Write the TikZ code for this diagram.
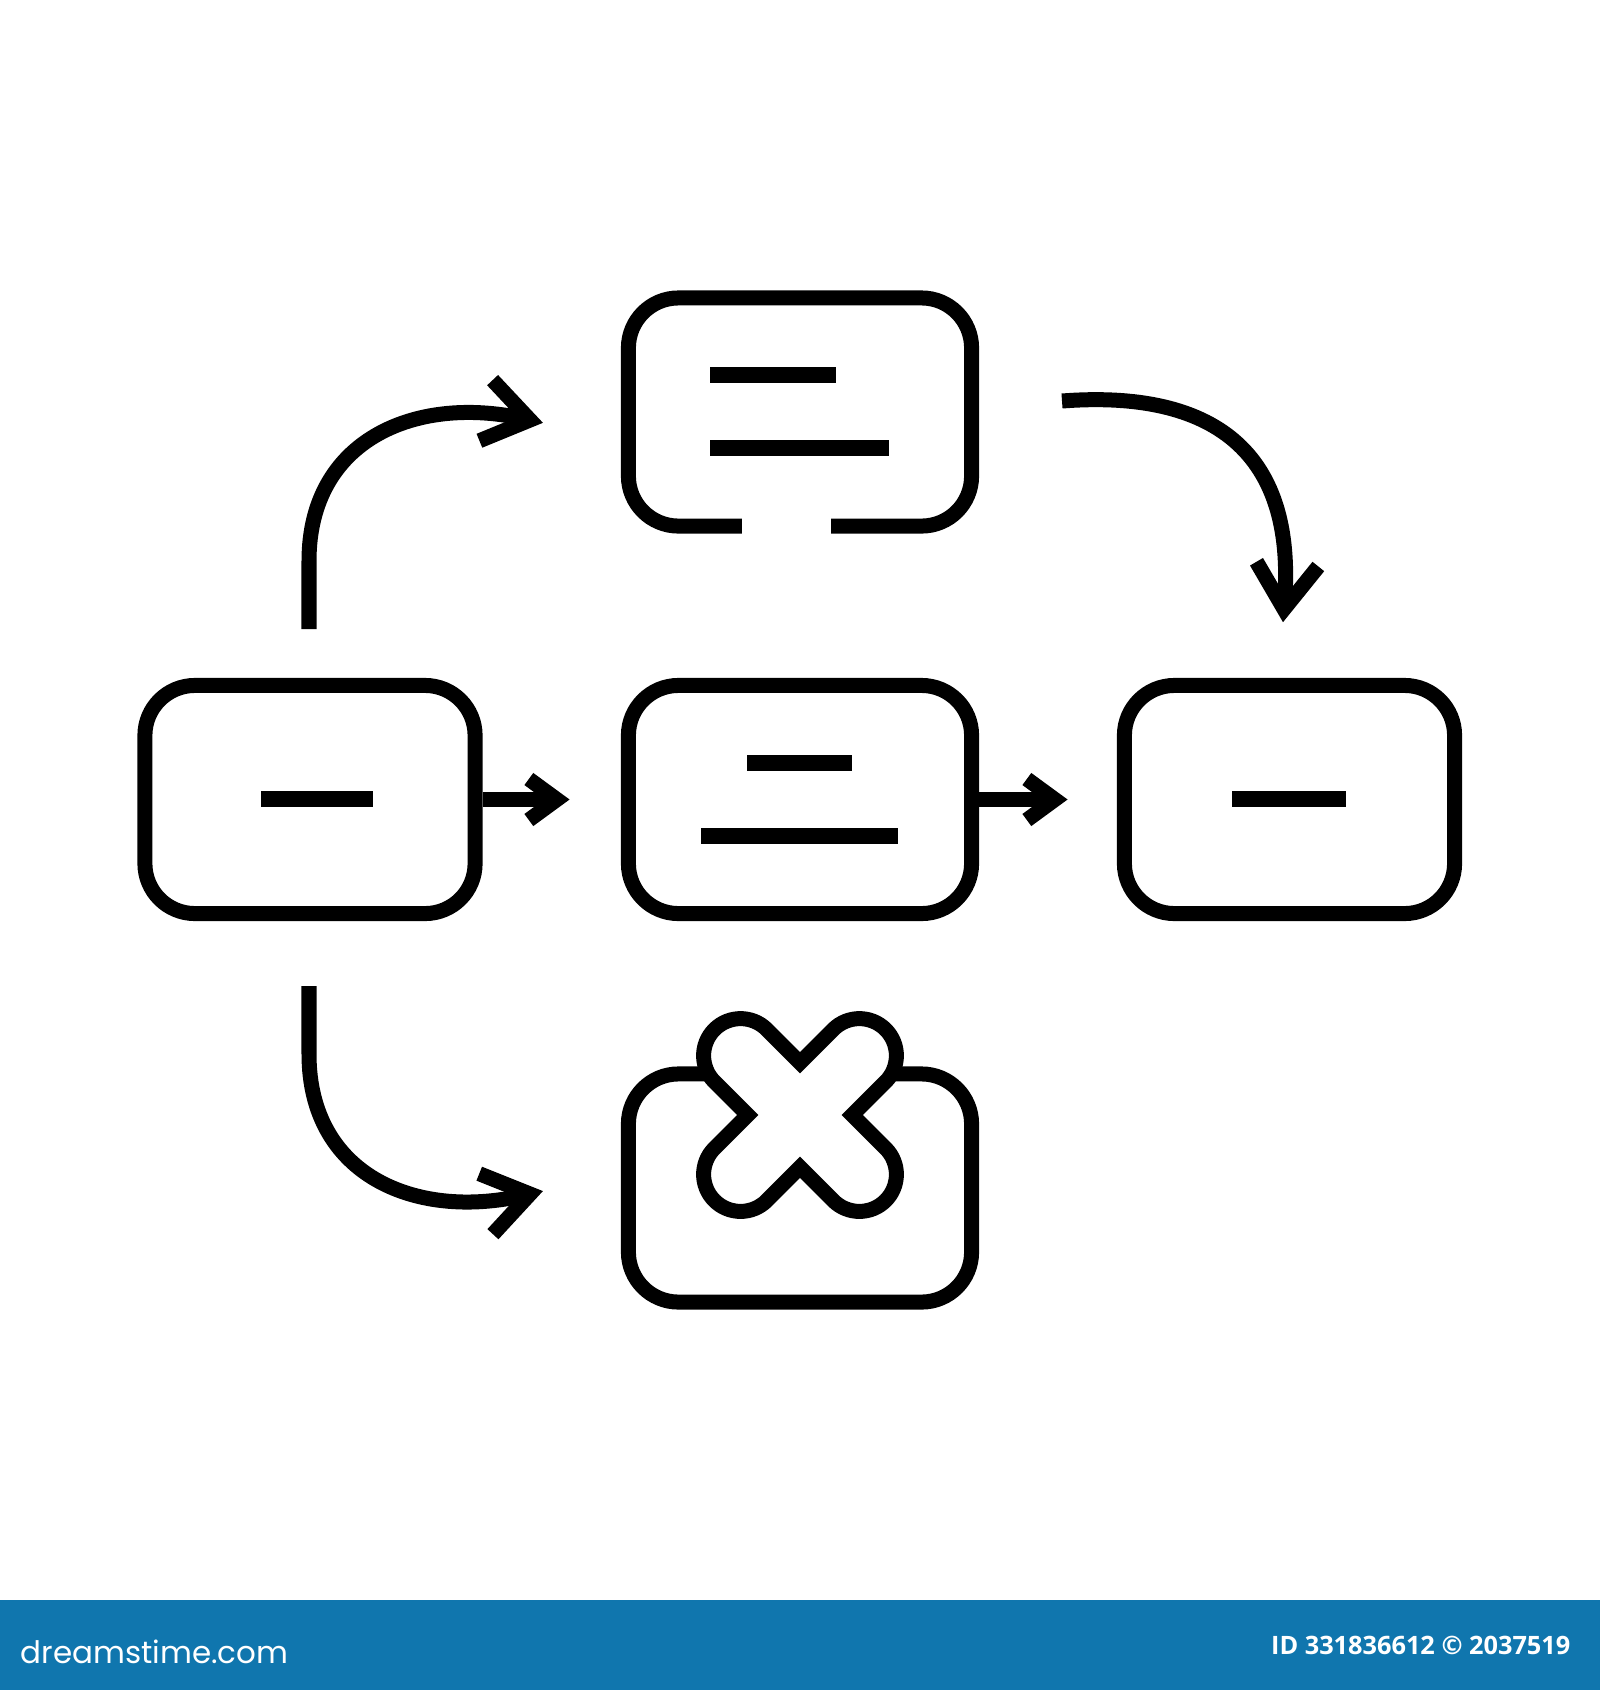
\documentclass[tikz,border=0pt]{standalone}
\usepackage{fontspec}
\usetikzlibrary{arrows.meta}
\newfontfamily\logofont{Poppins}
\newfontfamily\idfont{Open Sans}
\definecolor{barblue}{RGB}{16,118,174}
% open arrow head that keeps the full line width
\pgfdeclarearrow{
  name = Vee,
  parameters = {\the\pgfarrowlength,\the\pgfarrowwidth,\the\pgfarrowlinewidth},
  setup code = {
    \pgfarrowssettipend{0pt}
    \pgfarrowssetlineend{-0.5\pgfarrowlinewidth}
    \pgfarrowssetbackend{-\pgfarrowlength}
    \pgfarrowssavethe\pgfarrowlength
    \pgfarrowssavethe\pgfarrowwidth
    \pgfarrowssavethe\pgfarrowlinewidth
  },
  drawing code = {
    \pgfsetlinewidth{\pgfarrowlinewidth}
    \pgfsetmiterjoin
    \pgfsetbuttcap
    \pgfpathmoveto{\pgfpoint{-\pgfarrowlength}{0.5\pgfarrowwidth}}
    \pgfpathlineto{\pgfpointorigin}
    \pgfpathlineto{\pgfpoint{-\pgfarrowlength}{-0.5\pgfarrowwidth}}
    \pgfusepathqstroke
  },
  defaults = {length = 0.28cm, width = 0.41cm}
}
\tikzset{
  box/.style={draw, line width=0.15cm, rounded corners=0.5cm, minimum width=3.3cm, minimum height=2.28cm, inner sep=0pt},
  midbox/.style={box, minimum width=3.43cm},
  textline/.style={line width=0.155cm},
  flow/.style={line width=0.15cm, -{Vee[length=0.28cm,width=0.41cm,line width=0.15cm]}},
  bigflow/.style={line width=0.15cm, -{Vee[length=0.45cm,width=0.62cm,line width=0.15cm]}}
}
\begin{document}
\begin{tikzpicture}[x=0.01cm,y=-0.01cm]
				\fill[white] (0,0) rectangle (1600,1690);
				\useasboundingbox (0,0) rectangle (1600,1690);
				
				% boxes
				\node[box] (left) at (310,799.5) {};
				\node[midbox] (mid) at (800,799.5) {};
				\node[box] (right) at (1289.5,799.5) {};
				\node[midbox] (top) at (800,412) {};
				\node[midbox] (bottom) at (800,1188) {};
				
				% gap in the top box
				\fill[white] (742,505) rectangle (831,545);
				
				% text lines
				\draw[textline] (710,375) -- (836,375);
				\draw[textline] (710,448) -- (889,448);
				\draw[textline] (747,763) -- (852,763);
				\draw[textline] (701,836) -- (898,836);
				\draw[textline] (261,799) -- (373,799);
				\draw[textline] (1232,799) -- (1346,799);
				
				% cross on the bottom box
				\draw[line width=0.15cm, fill=white, shift={(800,1115)}, rotate=45]
					(37,37) -- (84,37) arc(90:-90:37) -- (37,-37) -- (37,-84) arc(0:-180:37)
					-- (-37,-37) -- (-84,-37) arc(-90:-270:37) -- (-37,37) -- (-37,84) arc(180:0:37) -- cycle;
				
				% arrows
				\coordinate (upstart) at (309,629);
				\coordinate (uptip) at (530,420);
				\coordinate (downstart) at (309,986);
				\coordinate (downtip) at (530,1194);
				\coordinate (rightstart) at (1062,401);
				\coordinate (righttip) at (1284,609);
				
				\draw[flow, shorten >=0.64cm] (left) -- (mid);
				\draw[flow, shorten >=0.62cm] (mid) -- (right);
				\draw[bigflow] (upstart) -- (309,561) .. controls (309,440) and (415,395) .. (uptip);
				\draw[bigflow] (downstart) -- (309,1054) .. controls (309,1175) and (415,1220) .. (downtip);
				\draw[bigflow] (rightstart) .. controls (1180,392) and (1298,425) .. (righttip);
				
				% footer
				\fill[barblue] (0,1600) rectangle (1600,1690);
				\node[anchor=base west, inner sep=0pt, text=white, font=\logofont\fontsize{8.8}{11}\selectfont] (logo) at (20,1663) {dreamstime.com};
				\node[anchor=base east, inner sep=0pt, text=white, font=\idfont\bfseries\fontsize{7.2}{9}\selectfont] (stockid) at (1571,1654) {ID 331836612 © 2037519};
			\end{tikzpicture}
\end{document}
